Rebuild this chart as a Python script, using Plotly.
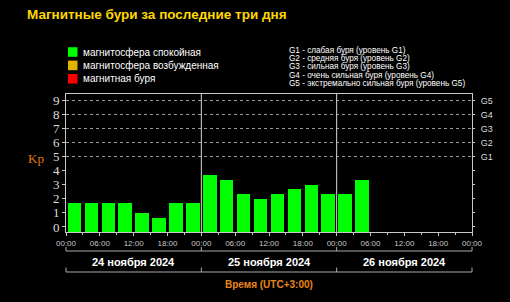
import plotly.graph_objects as go

# ---------------- data ----------------
TITLE = "Магнитные бури за последние три дня"
DAY_LABELS = ["24 ноября 2024", "25 ноября 2024", "26 ноября 2024"]
SLOT_HOURS = 3
KP_VALUES = [1.67, 1.67, 1.67, 1.67, 1.0, 0.67, 1.67, 1.67,
             3.67, 3.33, 2.33, 2.0, 2.33, 2.67, 3.0, 2.33,
             2.33, 3.33]
TIME_TICK_HOURS = list(range(0, 73, 6))
TIME_TICK_TEXT = ["00:00", "06:00", "12:00", "18:00"] * 3 + ["00:00"]
KP_TICKS = list(range(0, 10))
G_LEVELS = [5, 6, 7, 8, 9]
G_LABELS = ["G1", "G2", "G3", "G4", "G5"]
STATE_NAMES = ["магнитосфера спокойная", "магнитосфера возбужденная", "магнитная буря"]
STATE_COLORS = ["#00FF00", "#E0B400", "#FF0000"]
G_LEGEND = [
    "G1 - слабая буря (уровень G1)",
    "G2 - средняя буря (уровень G2)",
    "G3 - сильная буря (уровень G3)",
    "G4 - очень сильная буря (уровень G4)",
    "G5 - экстремально сильная буря (уровень G5)",
]
X_LABEL = "Время (UTC+3:00)"
Y_LABEL = "Kp"

# ---------------- layout geometry ----------------
W, H = 510, 302
ML, MR, MT, MB = 66, 38, 94, 70
PW, PH = W - ML - MR, H - MT - MB
Y_MIN, Y_MAX = -0.36, 9.46
X_MAX = 24 * len(DAY_LABELS)


def px(x):
    return (x - ML) / PW


def py(y):
    return (H - MB - y) / PH


def kp_color(v):
    if v < 4:
        return STATE_COLORS[0]
    if v < 5:
        return STATE_COLORS[1]
    return STATE_COLORS[2]


x_centers = [SLOT_HOURS * i + SLOT_HOURS / 2 for i in range(len(KP_VALUES))]

fig = go.Figure()
fig.add_trace(go.Bar(
    x=x_centers,
    y=[v - Y_MIN for v in KP_VALUES],
    base=Y_MIN,
    width=SLOT_HOURS * 0.8,
    marker=dict(color=[kp_color(v) for v in KP_VALUES], line=dict(width=0)),
    showlegend=False,
    customdata=KP_VALUES,
    hovertemplate="Kp=%{customdata}<extra></extra>",
))
# invisible trace to activate right axis
fig.add_trace(go.Scatter(x=[0], y=[0], yaxis="y2", mode="markers",
                         marker=dict(opacity=0), showlegend=False, hoverinfo="skip"))

AX_COL = "#c8c8c8"
shapes = []
annotations = []

# day separators
for d in range(1, len(DAY_LABELS)):
    shapes.append(dict(type="line", xref="x", yref="paper", x0=24 * d, x1=24 * d,
                       y0=0, y1=1, line=dict(color="#d8d8d8", width=1)))

# brackets under the axis
for (yline, ytop) in [(251, 247), (272, 267.5)]:
    shapes.append(dict(type="line", xref="paper", yref="paper", x0=0, x1=1,
                       y0=py(yline), y1=py(yline), line=dict(color="#aaaaaa", width=1)))
    for d in range(len(DAY_LABELS) + 1):
        xx = 24 * d / X_MAX
        shapes.append(dict(type="line", xref="paper", yref="paper", x0=xx, x1=xx,
                           y0=py(yline), y1=py(ytop), line=dict(color="#aaaaaa", width=1)))

for d, lab in enumerate(DAY_LABELS):
    annotations.append(dict(text="<b>" + lab + "</b>", xref="x", yref="paper",
                            x=24 * d + 12, y=py(261.5), showarrow=False,
                            font=dict(family="Liberation Sans", size=11, color="#ffffff"),
                            xanchor="center", yanchor="middle"))

annotations.append(dict(text="<b>" + X_LABEL + "</b>", xref="paper", yref="paper",
                        x=0.5, y=py(284), showarrow=False,
                        font=dict(family="Liberation Sans", size=10, color="#E8861A"),
                        xanchor="center", yanchor="middle"))
annotations.append(dict(text=Y_LABEL, xref="paper", yref="paper",
                        x=px(36), y=py(158), showarrow=False,
                        font=dict(family="Liberation Serif", size=13, color="#E07A10"),
                        xanchor="center", yanchor="middle"))

# title
annotations.append(dict(text="<b>" + TITLE + "</b>", xref="paper", yref="paper",
                        x=px(25), y=py(15), showarrow=False,
                        font=dict(family="Liberation Sans", size=13.5, color="#FFD800"),
                        xanchor="left", yanchor="middle"))

# state legend
for i, (name, col) in enumerate(zip(STATE_NAMES, STATE_COLORS)):
    yc = 52 + i * 13.4
    shapes.append(dict(type="rect", xref="paper", yref="paper",
                       x0=px(68), x1=px(77.5), y0=py(yc - 4.8), y1=py(yc + 4.8),
                       fillcolor=col, line=dict(width=0)))
    annotations.append(dict(text=name, xref="paper", yref="paper",
                            x=px(80.5), y=py(yc), showarrow=False,
                            font=dict(family="Liberation Sans", size=10, color="#ffffff"),
                            xanchor="left", yanchor="middle"))

# G legend
for i, txt in enumerate(G_LEGEND):
    yc = 50.3 + i * 8.3
    annotations.append(dict(text=txt, xref="paper", yref="paper",
                            x=px(286.5), y=py(yc), showarrow=False,
                            font=dict(family="Liberation Sans", size=8.2, color="#ffffff"),
                            xanchor="left", yanchor="middle"))

fig.update_layout(
    width=W, height=H,
    margin=dict(l=ML, r=MR, t=MT, b=MB, pad=0),
    paper_bgcolor="#000000", plot_bgcolor="#000000",
    bargap=0,
    xaxis=dict(range=[0, X_MAX], tickmode="array", tickvals=TIME_TICK_HOURS,
               ticktext=TIME_TICK_TEXT, ticks="outside", ticklen=3, tickcolor=AX_COL,
               tickfont=dict(family="Liberation Sans", size=8, color="#c8c8c8"),
               showgrid=False, zeroline=False, showline=True, linecolor=AX_COL,
               linewidth=1, mirror=True,
               minor=dict(dtick=SLOT_HOURS, tick0=0, ticks="outside", ticklen=2,
                          tickcolor=AX_COL, showgrid=False)),
    yaxis=dict(range=[Y_MIN, Y_MAX], tickmode="array", tickvals=KP_TICKS,
               ticks="outside", ticklen=3, tickcolor=AX_COL,
               tickfont=dict(family="Liberation Serif", size=13, color="#dddddd"),
               showgrid=False, zeroline=False, showline=True, linecolor=AX_COL,
               linewidth=1, mirror=True, fixedrange=True),
    yaxis2=dict(range=[Y_MIN, Y_MAX], overlaying="y", side="right",
                tickmode="array", tickvals=G_LEVELS, ticktext=G_LABELS,
                ticks="outside", ticklen=2, tickcolor=AX_COL,
                ticklabelstandoff=4,
                tickfont=dict(family="Liberation Sans", size=9, color="#dddddd"),
                showgrid=True, gridcolor="#9a9a9a", griddash="dot", gridwidth=1,
                zeroline=False, showline=False,
                minor=dict(dtick=1, tick0=0, ticks="outside", ticklen=2,
                           tickcolor=AX_COL, showgrid=False)),
    shapes=shapes,
    annotations=annotations,
)

fig.write_html("out.html")
